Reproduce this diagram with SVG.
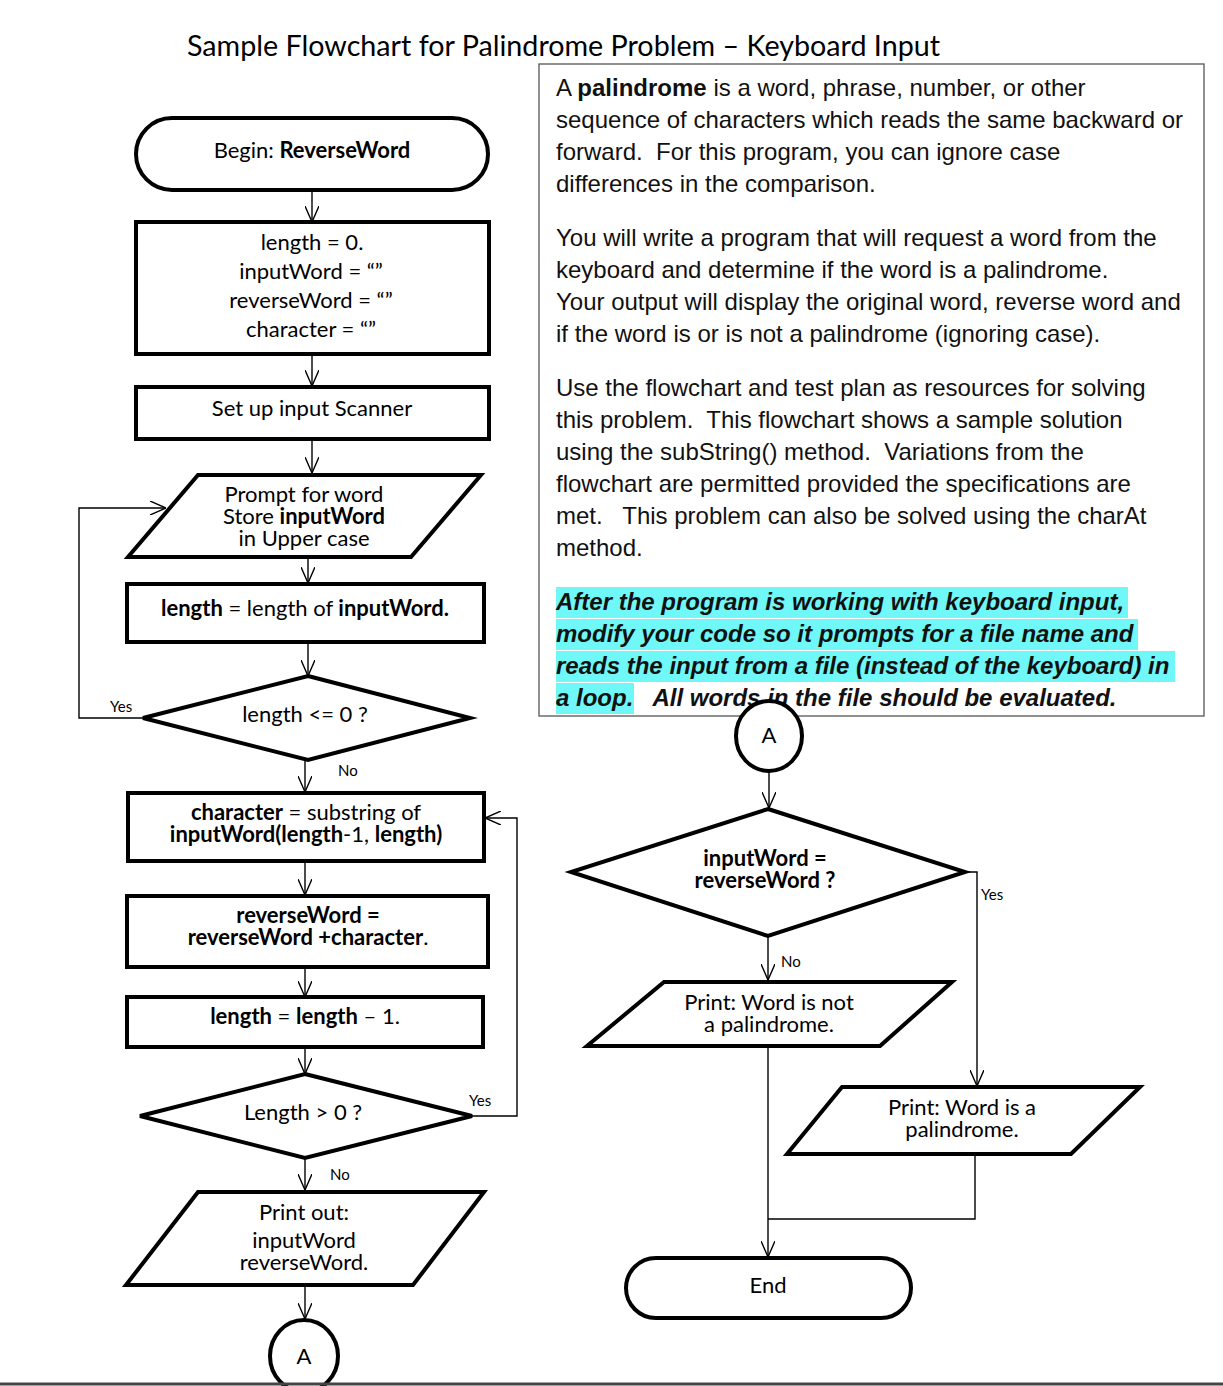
<svg xmlns="http://www.w3.org/2000/svg" width="1223" height="1386" viewBox="0 0 1223 1386">
<defs>
<style>
.node{fill:#fff;stroke:#000;stroke-width:4}
.conn{fill:none;stroke:#000;stroke-width:1.4}
.t{font-family:Lato,"Open Sans","Noto Sans",sans-serif;font-size:22px;fill:#000;text-anchor:middle}
.lbl{font-family:Lato,"Open Sans","Noto Sans",sans-serif;font-size:15px;fill:#000}
.d{font-family:"Liberation Sans",Arial,sans-serif;font-size:24px;fill:#111;white-space:pre}
.hl{fill:#70F8F8}
.b{font-weight:bold}
</style>
<marker id="arr" viewBox="0 0 16 14" refX="16" refY="7" markerWidth="16" markerHeight="14" markerUnits="userSpaceOnUse" orient="auto">
<path d="M0,0 L16,7 L0,14" fill="none" stroke="#000" stroke-width="1.4"/>
</marker>
</defs>
<rect width="1223" height="1386" fill="#fff"/>

<text id="title" x="187" y="56" font-family="Lato,'Open Sans','Noto Sans',sans-serif" font-size="28" textLength="753" lengthAdjust="spacingAndGlyphs">Sample Flowchart for Palindrome Problem – Keyboard Input</text>

<g id="description">
<rect x="539" y="64" width="665" height="652" fill="#fff" stroke="#555" stroke-width="1.3"/>
<text class="d" xml:space="preserve" x="556" y="96">A <tspan class="b">palindrome</tspan> is a word, phrase, number, or other</text>
<text class="d" xml:space="preserve" x="556" y="128">sequence of characters which reads the same backward or</text>
<text class="d" xml:space="preserve" x="556" y="160">forward.  For this program, you can ignore case</text>
<text class="d" xml:space="preserve" x="556" y="192">differences in the comparison.</text>
<text class="d" xml:space="preserve" x="556" y="246">You will write a program that will request a word from the</text>
<text class="d" xml:space="preserve" x="556" y="278">keyboard and determine if the word is a palindrome.</text>
<text class="d" xml:space="preserve" x="556" y="310">Your output will display the original word, reverse word and</text>
<text class="d" xml:space="preserve" x="556" y="342">if the word is or is not a palindrome (ignoring case).</text>
<text class="d" xml:space="preserve" x="556" y="396">Use the flowchart and test plan as resources for solving</text>
<text class="d" xml:space="preserve" x="556" y="428">this problem.  This flowchart shows a sample solution</text>
<text class="d" xml:space="preserve" x="556" y="460">using the subString() method.  Variations from the</text>
<text class="d" xml:space="preserve" x="556" y="492">flowchart are permitted provided the specifications are</text>
<text class="d" xml:space="preserve" x="556" y="524">met.   This problem can also be solved using the charAt</text>
<text class="d" xml:space="preserve" x="556" y="556">method.</text>
<rect class="hl" x="556" y="587" width="572" height="31"/>
<rect class="hl" x="556" y="619" width="582" height="31"/>
<rect class="hl" x="556" y="651" width="619" height="31"/>
<rect class="hl" x="556" y="683" width="78" height="31"/>
<text class="d b" xml:space="preserve" font-style="italic" x="556" y="610">After the program is working with keyboard input,</text>
<text class="d b" xml:space="preserve" font-style="italic" x="556" y="642">modify your code so it prompts for a file name and</text>
<text class="d b" xml:space="preserve" font-style="italic" x="556" y="674">reads the input from a file (instead of the keyboard) in</text>
<text class="d b" xml:space="preserve" font-style="italic" x="556" y="706">a loop.   All words in the file should be evaluated.</text>
</g>

<g id="connectors">
<line class="conn" x1="312" y1="190" x2="312" y2="222" marker-end="url(#arr)"/>
<line class="conn" x1="312" y1="354" x2="312" y2="386" marker-end="url(#arr)"/>
<line class="conn" x1="312" y1="439" x2="312" y2="473" marker-end="url(#arr)"/>
<line class="conn" x1="308" y1="553" x2="308" y2="583" marker-end="url(#arr)"/>
<line class="conn" x1="308" y1="642" x2="308" y2="676" marker-end="url(#arr)"/>
<path class="conn" d="M143,718 H79 V508 H166" marker-end="url(#arr)"/>
<line class="conn" x1="305" y1="760" x2="305" y2="792" marker-end="url(#arr)"/>
<line class="conn" x1="305" y1="861" x2="305" y2="895" marker-end="url(#arr)"/>
<line class="conn" x1="305" y1="967" x2="305" y2="997" marker-end="url(#arr)"/>
<line class="conn" x1="305" y1="1047" x2="305" y2="1074" marker-end="url(#arr)"/>
<path class="conn" d="M472,1116 H517 V818 H485" marker-end="url(#arr)"/>
<line class="conn" x1="305" y1="1158" x2="305" y2="1190" marker-end="url(#arr)"/>
<line class="conn" x1="305" y1="1285" x2="305" y2="1319" marker-end="url(#arr)"/>
<line class="conn" x1="769" y1="771" x2="769" y2="808" marker-end="url(#arr)"/>
<path class="conn" d="M965,872 H977 V1086" marker-end="url(#arr)"/>
<line class="conn" x1="768" y1="936" x2="768" y2="980" marker-end="url(#arr)"/>
<line class="conn" x1="768" y1="1046" x2="768" y2="1257" marker-end="url(#arr)"/>
<path class="conn" d="M975,1156 V1219 H768"/>
<text class="lbl" x="110" y="712">Yes</text>
<text class="lbl" x="338" y="776">No</text>
<text class="lbl" x="469" y="1106">Yes</text>
<text class="lbl" x="330" y="1180">No</text>
<text class="lbl" x="981" y="900">Yes</text>
<text class="lbl" x="781" y="967">No</text>
</g>

<g id="begin">
<rect class="node" x="136" y="118" width="352" height="72" rx="36" ry="36"/>
<text class="t" x="312" y="158">Begin: <tspan class="b">ReverseWord</tspan></text>
</g>
<g id="init">
<rect class="node" x="136" y="222" width="353" height="132"/>
<text class="t" x="312" y="250">length = 0.</text>
<text class="t" x="311" y="279">inputWord = “”</text>
<text class="t" x="311" y="308">reverseWord = “”</text>
<text class="t" x="311" y="337">character = “”</text>
</g>
<g id="scanner">
<rect class="node" x="136" y="387" width="353" height="52"/>
<text class="t" x="312" y="416">Set up input Scanner</text>
</g>
<g id="prompt">
<polygon class="node" points="198,475 481,475 411,557 128,557"/>
<text class="t" x="304" y="502">Prompt for word</text>
<text class="t" x="304" y="524">Store <tspan class="b">inputWord</tspan></text>
<text class="t" x="304" y="546">in Upper case</text>
</g>
<g id="getlength">
<rect class="node" x="127" y="584" width="357" height="58"/>
<text class="t" x="305" y="616"><tspan class="b">length</tspan> = length of <tspan class="b">inputWord.</tspan></text>
</g>
<g id="check1">
<polygon class="node" points="308,676 470,718 308,760 143,718"/>
<text class="t" x="305" y="722">length &lt;= 0 ?</text>
</g>
<g id="substr">
<rect class="node" x="128" y="793" width="356" height="68"/>
<text class="t" x="306" y="820"><tspan class="b">character</tspan> = substring of</text>
<text class="t b" x="306" y="842">inputWord(length<tspan font-weight="normal">-1, </tspan>length)</text>
</g>
<g id="append">
<rect class="node" x="127" y="896" width="361" height="71"/>
<text class="t b" x="308" y="923">reverseWord =</text>
<text class="t" x="308" y="945"><tspan class="b">reverseWord +character</tspan>.</text>
</g>
<g id="decrement">
<rect class="node" x="127" y="997" width="356" height="50"/>
<text class="t" x="305" y="1024"><tspan class="b">length</tspan> = <tspan class="b">length</tspan> – 1.</text>
</g>
<g id="check2">
<polygon class="node" points="305,1074 472,1116 305,1158 140,1116"/>
<text class="t" x="303" y="1120">Length &gt; 0 ?</text>
</g>
<g id="printout">
<polygon class="node" points="198,1192 484,1192 413,1285 126,1285"/>
<text class="t" x="304" y="1220">Print out:</text>
<text class="t" x="304" y="1248">inputWord</text>
<text class="t" x="304" y="1270">reverseWord.</text>
</g>
<g id="connA1">
<ellipse class="node" stroke-width="3.5" cx="304" cy="1356" rx="34" ry="36"/>
<text class="t" x="304" y="1364">A</text>
</g>
<line x1="0" y1="1384" x2="1223" y2="1384" stroke="#444" stroke-width="3"/>

<g id="connA2">
<ellipse class="node" stroke-width="3.5" cx="769" cy="736" rx="33" ry="35"/>
<text class="t" x="769" y="743" font-family="'Liberation Sans',sans-serif" font-size="19">A</text>
</g>
<g id="compare">
<polygon class="node" points="768,809 965,872 768,936 571,872"/>
<text class="t b" x="765" y="866">inputWord =</text>
<text class="t b" x="765" y="888">reverseWord ?</text>
</g>
<g id="notpal">
<polygon class="node" points="664,982 952,982 880,1046 587,1046"/>
<text class="t" x="769" y="1010">Print: Word is not</text>
<text class="t" x="769" y="1032">a palindrome.</text>
</g>
<g id="ispal">
<polygon class="node" points="842,1087 1140,1087 1071,1154 787,1154"/>
<text class="t" x="962" y="1115">Print: Word is a</text>
<text class="t" x="962" y="1137">palindrome.</text>
</g>
<g id="end">
<rect class="node" x="626" y="1258" width="285" height="60" rx="30" ry="30"/>
<text class="t" x="768" y="1293">End</text>
</g>
</svg>
